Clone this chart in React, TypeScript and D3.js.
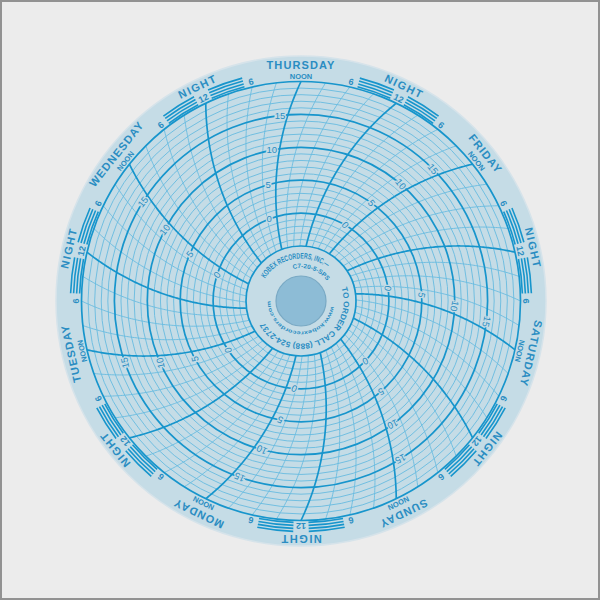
import * as d3 from "d3";
import { useEffect, useRef } from "react";

// days clockwise from the top, each label sits on that day's noon line
const DAYS = ["THURSDAY", "FRIDAY", "SATURDAY", "SUNDAY", "MONDAY", "TUESDAY", "WEDNESDAY"];
const VALUE_DOMAIN: [number, number] = [-5, 20];
const VALUE_LABELS = [0, 5, 10, 15];
const HOURS_PER_DAY = 24;
const HOUR_STEP = 3;
const QUARTER_LABELS = [
  { offset: -6, text: "6" },
  { offset: 6, text: "6" },
];
const NIGHT_TEXT = "NIGHT";
const MIDNIGHT_TEXT = "12";
const NOON_TEXT = "NOON";
// hours around midnight covered by the night bars
const NIGHT_BARS: [number, number][] = [
  [-5.1, -0.9],
  [0.9, 5.1],
];
const HUB_OUTER = ["KOBEX RECORDERS, INC.\u2014", "TO ORDER CALL (888) 524-2737"];
const HUB_INNER = ["C7-20-5-SPS", "www.kobexrecorders.com"];

const PAPER = "#c5dce6";
const LIGHT = "#68bbe0";
const BOLD = "#1795cc";
const INK = "#2a8dc2";

export default function App() {
  const ref = useRef<SVGSVGElement | null>(null);

  useEffect(() => {
    const el = ref.current;
    if (!el) return;
    const svg = d3.select(el);
    svg.selectAll("*").remove();

    const W = 600;
    const H = 600;
    const cx = 301;
    const cy = 301;
    const rPaper = 245;

    const r = d3.scaleLinear().domain(VALUE_DOMAIN).range([55, 219.5]);
    const totalHours = DAYS.length * HOURS_PER_DAY;
    // hour 0 = Thursday noon, at the top
    const ang = d3.scaleLinear().domain([0, totalHours]).range([0, 2 * Math.PI]);
    const rOut = r(VALUE_DOMAIN[1]);

    // pen arm arc: pivot at distance D, arm length L
    const D = 260;
    const L = 262;
    const alpha = (rr: number) =>
      Math.acos((D * D + rr * rr - L * L) / (2 * D * rr));
    const bend = (rr: number) => alpha(rr) - alpha(rOut);
    const deg = (a: number) => (a * 180) / Math.PI;

    svg
      .attr("viewBox", `0 0 ${W} ${H}`)
      .attr("width", W)
      .attr("height", H);

    svg
      .append("rect")
      .attr("x", 1)
      .attr("y", 1)
      .attr("width", W - 2)
      .attr("height", H - 2)
      .attr("fill", "#ececec")
      .attr("stroke", "#929292")
      .attr("stroke-width", 2);

    const g = svg.append("g");

    g.append("circle")
      .attr("cx", cx)
      .attr("cy", cy)
      .attr("r", rPaper)
      .attr("fill", PAPER)
      .attr("stroke", "#d6e3ea")
      .attr("stroke-width", 1.5);

    const grid = g.append("g").attr("transform", `translate(${cx},${cy})`);

    const values = d3.range(VALUE_DOMAIN[0], VALUE_DOMAIN[1] + 1);
    const radii = d3.range(r(VALUE_DOMAIN[0]), rOut + 0.01, 1.5).concat([rOut]);
    const hours = d3.range(0, totalHours, HOUR_STEP);
    const line = d3.lineRadial<number>().radius((d) => d);

    const drawCircles = (bold: boolean) =>
      grid
        .selectAll(null)
        .data(values.filter((v) => (v % 5 === 0) === bold))
        .join("circle")
        .attr("r", (v) => r(v))
        .attr("fill", "none")
        .attr("stroke", bold ? BOLD : LIGHT)
        .attr("stroke-width", bold ? 1.7 : 0.9);

    const drawTimes = (bold: boolean) =>
      grid
        .selectAll(null)
        .data(hours.filter((h) => (h % 12 === 0) === bold))
        .join("path")
        .attr("fill", "none")
        .attr("stroke", bold ? BOLD : LIGHT)
        .attr("stroke-width", bold ? 1.7 : 0.9)
        .attr("d", (h) => line.angle((rr) => ang(h) - bend(rr))(radii));

    drawCircles(false);
    drawTimes(false);
    drawCircles(true);
    drawTimes(true);

    const font = "'Liberation Sans', Arial, sans-serif";
    const label = (
      a: number,
      rr: number,
      text: string,
      size: number,
      opts: { weight?: number; spacing?: number; family?: string } = {},
    ) =>
      grid
        .append("text")
        .attr("transform", `rotate(${deg(a)}) translate(0,${-rr})`)
        .attr("dy", "0.35em")
        .attr("text-anchor", "middle")
        .attr("font-family", opts.family ?? font)
        .attr("font-size", size)
        .attr("font-weight", opts.weight ?? 400)
        .attr("letter-spacing", opts.spacing ?? 0)
        .attr("fill", INK)
        .text(text);

    DAYS.forEach((day, i) => {
      const noon = i * HOURS_PER_DAY;
      label(ang(noon), 236, day, 11, { weight: 600, spacing: 1.1 });
      label(ang(noon), 224.5, NOON_TEXT, 7.5, {
        weight: 700,
        family: "'Liberation Sans Narrow', 'Liberation Sans', Arial, sans-serif",
      });
      QUARTER_LABELS.forEach((q) => label(ang(noon + q.offset), 225, q.text, 9, { weight: 600 }));

      const mid = noon + HOURS_PER_DAY / 2;
      label(ang(mid), 238, NIGHT_TEXT, 11, { weight: 600, spacing: 1.5 });
      label(ang(mid), 225, MIDNIGHT_TEXT, 9, { weight: 600 });

      NIGHT_BARS.forEach(([a0, a1]) => {
        [221.5, 224.5, 227.5, 230.5].forEach((br) => {
          grid
            .append("path")
            .attr(
              "d",
              d3.arc()({
                innerRadius: br - 0.8,
                outerRadius: br + 0.8,
                startAngle: ang(mid + a0),
                endAngle: ang(mid + a1),
              }) as string,
            )
            .attr("fill", BOLD);
        });
      });

      VALUE_LABELS.forEach((v) => {
        const rr = r(v);
        const a = ang(noon) - bend(rr);
        // just counter-clockwise of the noon line, kept upright to the day
        const shift = 8 / rr;
        label(a - shift, rr, String(v), 9.5)
          .attr(
            "transform",
            `rotate(${deg(a - shift)}) translate(0,${-rr}) rotate(${deg(bend(rr) + shift)})`,
          )
          .attr("stroke", PAPER)
          .attr("stroke-width", 2.5)
          .attr("paint-order", "stroke");
      });
    });

    // hub
    const hub = g.append("g");
    hub
      .append("circle")
      .attr("cx", cx)
      .attr("cy", cy)
      .attr("r", 25)
      .attr("fill", "#8dbcd6")
      .attr("stroke", "#79a9c4")
      .attr("stroke-width", 1.2);

    const defs = svg.append("defs");
    const ringPath = (rr: number, startDeg: number) => {
      const a = (startDeg * Math.PI) / 180;
      const x0 = cx + rr * Math.sin(a);
      const y0 = cy - rr * Math.cos(a);
      const x1 = cx - rr * Math.sin(a);
      const y1 = cy + rr * Math.cos(a);
      return `M${x0},${y0}A${rr},${rr} 0 1 1 ${x1},${y1}A${rr},${rr} 0 1 1 ${x0},${y0}`;
    };
    const ringText = (
      text: string,
      rr: number,
      startDeg: number,
      spanDeg: number,
      size: number,
      id: string,
    ) => {
      defs.append("path").attr("id", id).attr("d", ringPath(rr, startDeg));
      hub
        .append("text")
        .attr("font-family", font)
        .attr("font-size", size)
        .attr("font-weight", 600)
        .attr("fill", INK)
        .append("textPath")
        .attr("href", `#${id}`)
        .attr("textLength", (rr * spanDeg * Math.PI) / 180)
        .attr("lengthAdjust", "spacingAndGlyphs")
        .text(text);
    };
    ringText(HUB_OUTER[0], 42.5, -58, 96, 8, "hub-o0");
    ringText(HUB_OUTER[1], 42.5, 72, 168, 8, "hub-o1");
    ringText(HUB_INNER[0], 33, -14, 66, 6.2, "hub-i0");
    ringText(HUB_INNER[1], 30.5, 100, 170, 5.2, "hub-i1");
  }, []);

  return <svg ref={ref} style={{ position: "absolute", left: 0, top: 0, display: "block" }} />;
}
